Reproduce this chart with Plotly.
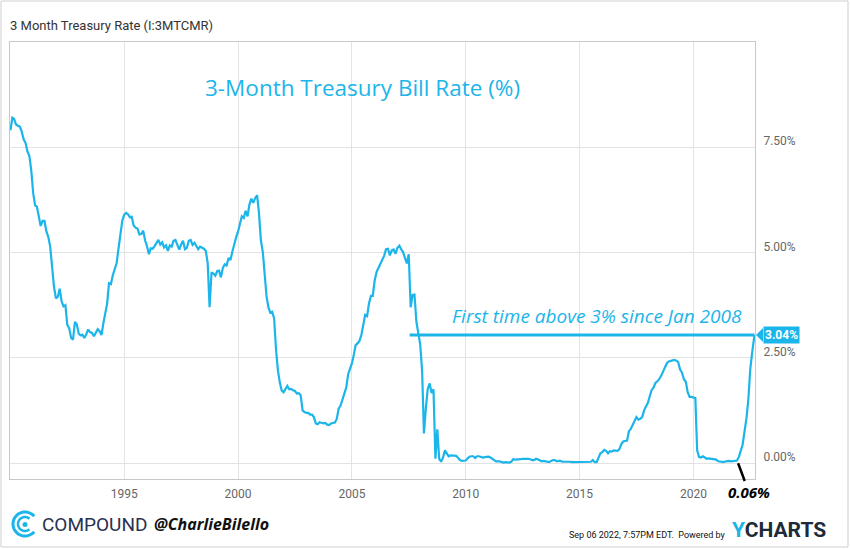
import numpy as np
import pandas as pd
import plotly.graph_objects as go

# ---------------- data (monthly 3M T-bill rate, %) ----------------
rates_1990s = [
    7.90, 8.20, 8.17, 8.04, 8.01, 7.99, 7.87, 7.69, 7.60, 7.40, 7.29, 6.95,   # 1990
    6.41, 6.12, 6.09, 5.83, 5.63, 5.75, 5.75, 5.50, 5.37, 5.14, 4.69, 4.18,   # 1991
    3.91, 3.95, 4.14, 3.84, 3.72, 3.75, 3.28, 3.20, 2.97, 2.93, 3.35, 3.29,   # 1992
    3.07, 3.03, 3.05, 2.97, 3.06, 3.17, 3.11, 3.09, 3.01, 3.09, 3.18, 3.13,   # 1993
    3.04, 3.33, 3.59, 3.78, 4.27, 4.25, 4.46, 4.61, 4.75, 5.10, 5.45, 5.76,   # 1994
    5.90, 5.94, 5.91, 5.84, 5.85, 5.64, 5.59, 5.57, 5.43, 5.44, 5.52, 5.29,   # 1995
    5.15, 4.96, 5.10, 5.09, 5.15, 5.23, 5.30, 5.19, 5.24, 5.12, 5.17, 5.04,   # 1996
    5.17, 5.14, 5.28, 5.30, 5.20, 5.07, 5.19, 5.28, 5.08, 5.11, 5.28, 5.30,   # 1997
    5.18, 5.23, 5.16, 5.08, 5.14, 5.12, 5.09, 5.04, 4.74, 3.70, 4.53, 4.50,   # 1998
    4.45, 4.56, 4.57, 4.41, 4.63, 4.72, 4.69, 4.87, 4.82, 5.02, 5.23, 5.36,   # 1999
]
rates_2000s = [
    5.50, 5.73, 5.86, 5.82, 5.99, 5.86, 6.14, 6.28, 6.18, 6.29, 6.36, 5.94,   # 2000
    5.29, 5.01, 4.54, 3.97, 3.70, 3.57, 3.59, 3.44, 2.69, 2.20, 1.91, 1.72,   # 2001
    1.68, 1.76, 1.83, 1.75, 1.76, 1.73, 1.71, 1.65, 1.66, 1.61, 1.25, 1.21,   # 2002
    1.19, 1.19, 1.15, 1.15, 1.09, 0.94, 0.92, 0.97, 0.96, 0.94, 0.95, 0.91,   # 2003
    0.90, 0.94, 0.95, 0.96, 1.04, 1.29, 1.36, 1.50, 1.68, 1.79, 2.11, 2.22,   # 2004
    2.37, 2.58, 2.80, 2.84, 2.90, 3.04, 3.29, 3.52, 3.49, 3.79, 3.97, 3.97,   # 2005
    4.34, 4.54, 4.63, 4.72, 4.84, 4.92, 5.08, 5.09, 4.93, 5.05, 5.07, 4.97,   # 2006
    5.11, 5.16, 5.08, 5.01, 4.87, 4.74, 4.96, 3.70, 3.99, 4.00, 3.35, 3.07,   # 2007
    2.82, 2.17, 0.70, 1.31, 1.76, 1.89, 1.66, 1.75, 0.10, 0.80, 0.10, 0.03,   # 2008
    0.13, 0.30, 0.22, 0.16, 0.18, 0.18, 0.18, 0.17, 0.12, 0.07, 0.05, 0.05,   # 2009
]
rates_2010s = [
    0.06, 0.11, 0.15, 0.16, 0.16, 0.12, 0.16, 0.16, 0.15, 0.13, 0.14, 0.14,   # 2010
    0.15, 0.13, 0.10, 0.06, 0.04, 0.04, 0.04, 0.02, 0.01, 0.02, 0.01, 0.01,   # 2011
    0.03, 0.09, 0.08, 0.08, 0.09, 0.09, 0.10, 0.10, 0.11, 0.10, 0.09, 0.07,   # 2012
    0.07, 0.10, 0.09, 0.06, 0.04, 0.05, 0.04, 0.04, 0.02, 0.05, 0.07, 0.07,   # 2013
    0.04, 0.05, 0.05, 0.03, 0.03, 0.04, 0.03, 0.03, 0.02, 0.02, 0.02, 0.03,   # 2014
    0.03, 0.02, 0.03, 0.02, 0.02, 0.02, 0.03, 0.07, 0.02, 0.02, 0.13, 0.23,   # 2015
    0.26, 0.31, 0.29, 0.23, 0.28, 0.27, 0.30, 0.30, 0.29, 0.33, 0.45, 0.51,   # 2016
    0.52, 0.53, 0.75, 0.81, 0.90, 1.00, 1.09, 1.03, 1.05, 1.09, 1.25, 1.34,   # 2017
    1.43, 1.59, 1.73, 1.79, 1.90, 1.94, 1.99, 2.07, 2.17, 2.29, 2.37, 2.41,   # 2018
    2.42, 2.44, 2.45, 2.43, 2.40, 2.22, 2.15, 1.99, 1.93, 1.68, 1.57, 1.57,   # 2019
]
rates_2020s = [
    1.55, 1.54, 0.30, 0.14, 0.13, 0.16, 0.13, 0.10, 0.11, 0.10, 0.09, 0.09,   # 2020
    0.08, 0.04, 0.03, 0.02, 0.02, 0.04, 0.05, 0.05, 0.04, 0.05, 0.05, 0.06,   # 2021
    0.15, 0.33, 0.44, 0.76, 1.06, 1.52, 2.23, 2.63, 3.04,                     # 2022 (last = Sep 6)
]
last_date = "2022-09-06"
last_value = 3.04
low_2021_date = "2021-12-01"
low_2021_value = 0.06
threshold_start = "2007-07-15"

y_tickvals = [0, 2.5, 5, 7.5]
y_ticktext = ["0.00%", "2.50%", "5.00%", "7.50%"]

rates = rates_1990s + rates_2000s + rates_2010s + rates_2020s
dates = list(pd.date_range("1990-01-01", periods=len(rates), freq="MS"))
dates[-1] = pd.Timestamp(last_date)

# ---------------- styling ----------------
CYAN = "#1cb5ea"
GRID = "#e3e3e3"
FRAME = "#c8c8c8"
L, R, T, B = 10, 95, 42, 70
W, H = 850, 549
PW, PH = W - L - R, H - T - B


def px2paper(x, y):
    return (x - L) / PW, (H - B - y) / PH


fig = go.Figure()
fig.add_trace(go.Scatter(x=dates, y=rates, mode="lines",
                         line=dict(color=CYAN, width=2.2), hoverinfo="skip",
                         showlegend=False))
# threshold line at latest value
fig.add_trace(go.Scatter(x=[threshold_start, last_date], y=[last_value, last_value],
                         mode="lines", line=dict(color=CYAN, width=3),
                         hoverinfo="skip", showlegend=False))

shapes = []
# outer border
x0, y0 = px2paper(1, 1)
x1, y1 = px2paper(848, 547)
shapes.append(dict(type="rect", xref="paper", yref="paper", x0=x0, y0=y1, x1=x1, y1=y0,
                   line=dict(color="#cfcfcf", width=1), layer="below"))
# pointer triangle for last value label
shapes.append(dict(type="path", xref="paper", yref="y", xsizemode="pixel", ysizemode="pixel",
                   xanchor=1, yanchor=last_value,
                   path="M 1 0 L 8 7 L 8 -7 Z", fillcolor=CYAN, line=dict(width=0)))

# Compound logo (arcs)
cx, cy = 25, 524


def arc(r, a0, a1, n=40):
    pts = []
    for a in np.linspace(np.radians(a0), np.radians(a1), n):
        px, py = px2paper(cx + r * np.cos(a), cy - r * np.sin(a))
        pts.append(f"{px:.5f},{py:.5f}")
    return "M " + " L ".join(pts)


shapes.append(dict(type="path", xref="paper", yref="paper", path=arc(12, 40, 320),
                   line=dict(color=CYAN, width=3)))
shapes.append(dict(type="path", xref="paper", yref="paper", path=arc(7, 50, 310),
                   line=dict(color=CYAN, width=2.5)))
dx0, dy0 = px2paper(cx - 2.5, cy + 3)
dx1, dy1 = px2paper(cx + 2.5, cy - 2)
shapes.append(dict(type="circle", xref="paper", yref="paper", x0=dx0, y0=dy0, x1=dx1, y1=dy1,
                   fillcolor=CYAN, line=dict(width=0)))

annotations = []


def ann(text, x, y, size, color, xanchor="center", family="Roboto", **kw):
    px, py = px2paper(x, y)
    annotations.append(dict(text=text, x=px, y=py, xref="paper", yref="paper",
                            xanchor=xanchor, yanchor="middle", showarrow=False,
                            font=dict(size=size, color=color, family=family), **kw))


ann("3 Month Treasury Rate (I:3MTCMR)", 8, 25, 13, "#333333", xanchor="left")
ann("3-Month Treasury Bill Rate (%)", 362, 87, 22.5, CYAN, family="Open Sans")
ann("<i>First time above 3% since Jan 2008</i>", 597, 316, 19, CYAN, family="Open Sans")
ann("COMPOUND", 40, 524, 19, "#283151", xanchor="left")
ann("<b><i>@CharlieBilello</i></b>", 152, 524, 16, "#111111", xanchor="left", family="Open Sans")
ann("Sep 06 2022, 7:57PM EDT.  Powered by", 728, 535, 9, "#111111", xanchor="right",
    family="Roboto")
ann(f"<b><span style='color:{CYAN}'>Y</span>CHARTS</b>", 730, 530, 21, "#1d2a3a",
    xanchor="left")

# last value label
annotations.append(dict(text=f"<b>{last_value:.2f}%</b>", x=1, y=last_value, xref="paper",
                        yref="y", xanchor="left", yanchor="middle", xshift=8,
                        showarrow=False, bgcolor=CYAN, borderpad=1,
                        font=dict(size=12, color="white", family="Roboto")))
# 0.06% low annotation
annotations.append(dict(text=f"<b><i>{low_2021_value:.2f}%</i></b>", x=low_2021_date,
                        y=low_2021_value, xref="x", yref="y", showarrow=True,
                        arrowhead=0, arrowwidth=2.5, arrowcolor="#000000",
                        ax=12, ay=32, standoff=3,
                        font=dict(size=15, color="#000000", family="Open Sans")))

fig.update_layout(
    width=W, height=H, margin=dict(l=L, r=R, t=T, b=B),
    paper_bgcolor="white", plot_bgcolor="white",
    shapes=shapes, annotations=annotations,
    font=dict(family="Roboto", color="#666666", size=12),
    xaxis=dict(range=["1989-12-25", "2022-09-15"], type="date", tickformat="%Y",
               tick0="1995-01-01", dtick="M60", showgrid=True, gridcolor=GRID,
               showline=True, mirror=True, linecolor=FRAME, zeroline=False,
               ticks="", ticklabelstandoff=4, tickfont=dict(size=12, color="#666666")),
    yaxis=dict(range=[-0.38, 10], side="right", tickvals=y_tickvals, ticktext=y_ticktext,
               showgrid=True, gridcolor=GRID, showline=True, mirror=True, linecolor=FRAME,
               zeroline=False, ticks="", ticklabelstandoff=5, ticklabelshift=-6,
               tickfont=dict(size=12, color="#666666")),
)

fig.write_html("out.html")
